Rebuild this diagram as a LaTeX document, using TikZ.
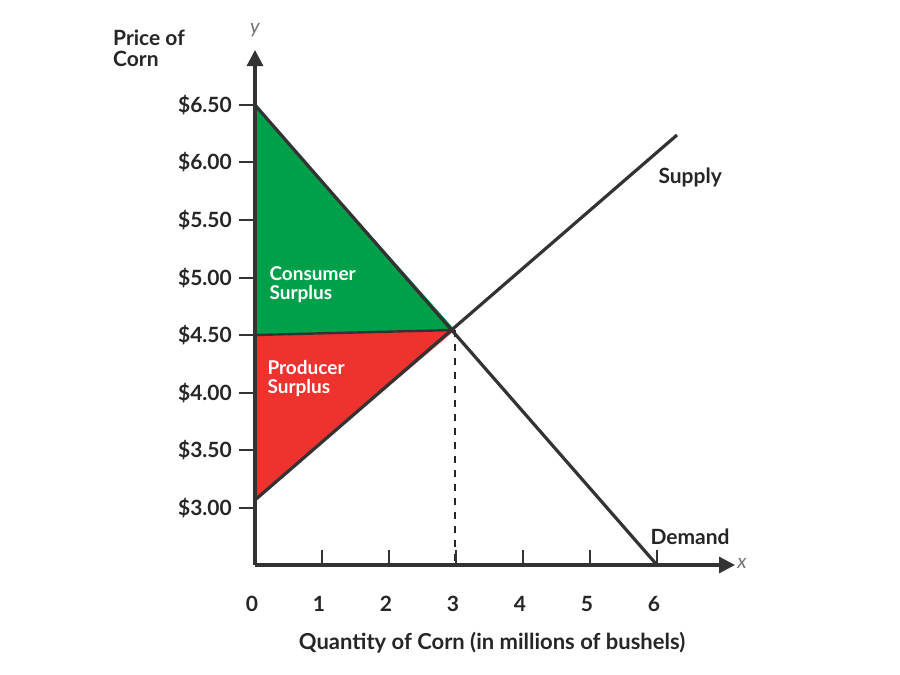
\documentclass[tikz,border=0pt]{standalone}
\usepackage{fontspec}
\setmainfont{Lato}
\usetikzlibrary{arrows.meta}
\tikzset{
  curve/.style={line width=3.2pt, draw=black!80},
  axis/.style={line width=3.2pt, draw=black!80, -{Triangle[length=16pt,width=16pt]}},
  ticklabel/.style={font=\bfseries\fontsize{21}{24}\selectfont, text=black!85},
  area/.style={font=\bfseries\fontsize{19}{21}\selectfont, text=white, align=left}
}
\begin{document}
\begin{tikzpicture}[x=1pt,y=-1pt]
  \useasboundingbox (0,0) rectangle (900,675);
  % key points
  \coordinate (o) at (255,565);
  \coordinate (ytop) at (255,50);
  \coordinate (xend) at (735,565);
  \coordinate (dtop) at (255,105);
  \coordinate (dend) at (657,565);
  \coordinate (sbot) at (255,500);
  \coordinate (send) at (677,135);
  \coordinate (eq) at (455,330);
  \coordinate (peq) at (255,335);
  \coordinate (qeq) at (455,565);
  % surplus areas
  \fill[fill={rgb,255:red,0;green,160;blue,75}] (dtop) -- (eq) -- (peq) -- cycle;
  \fill[fill={rgb,255:red,238;green,50;blue,45}] (peq) -- (eq) -- (sbot) -- cycle;
  \draw[curve, line width=2.4pt] (peq) -- (eq);
  \draw[black!85, line width=1.2pt, dash pattern=on 7pt off 7pt] (eq) -- (qeq);
  % curves
  \draw[curve] (dtop) -- (dend);
  \draw[curve] (sbot) -- (send);
  % axes
  \draw[axis] (o) -- (ytop);
  \draw[axis] (o) -- (xend);
  % ticks
  \foreach \i in {1,...,6}
    \draw[curve, line width=2pt] ({255+67*\i},565) -- ({255+67*\i},550);
  \foreach \i/\t in {0/3.00,1/3.50,2/4.00,3/4.50,4/5.00,5/5.50,6/6.00,7/6.50} {
    \draw[curve, line width=2pt] (255,{508-57.6*\i}) -- (239,{508-57.6*\i});
    \node[ticklabel, anchor=east, inner sep=0pt] (p\i) at (232,{508-57.6*\i}) {\$\t};
  }
  \foreach \i in {0,...,6}
    \node[ticklabel] (q\i) at ({252+67*\i},604) {\i};
  % labels
  \node[ticklabel, align=left, anchor=north west, inner sep=0pt] (ylab) at (113,30) {Price of\\[-3pt]Corn};
  \node[text=black!55, font=\itshape\fontsize{20}{22}\selectfont] (ysym) at (255,30) {y};
  \node[text=black!55, font=\itshape\fontsize{20}{22}\selectfont] (xsym) at (742,563) {x};
  \node[ticklabel, font=\bfseries\fontsize{22}{24}\selectfont] (xlab) at (492,643) {Quantity of Corn (in millions of bushels)};
  \node[ticklabel, anchor=west] (supply) at (655,177) {Supply};
  \node[ticklabel, anchor=west] (demand) at (647,537) {Demand};
  \node[area, anchor=west] (cs) at (266,285) {Consumer\\[-2pt]Surplus};
  \node[area, anchor=west] (ps) at (264,379) {Producer\\[-2pt]Surplus};
\end{tikzpicture}
\end{document}
